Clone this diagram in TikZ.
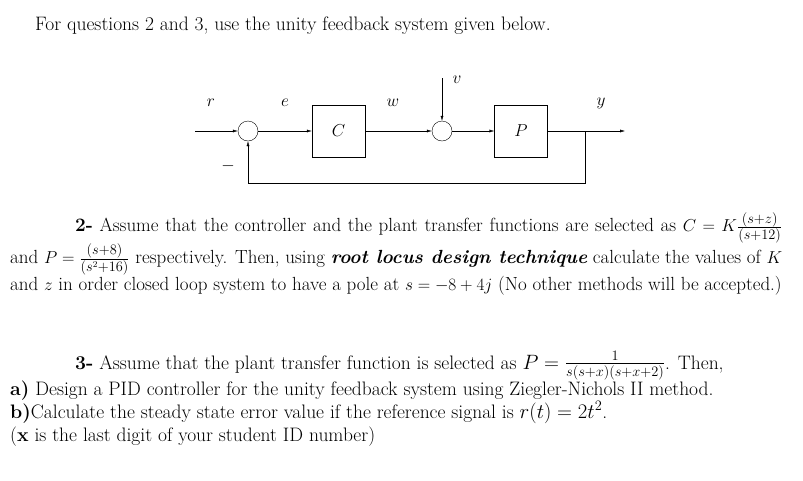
\documentclass[tikz,border=0pt]{standalone}
\usepackage{amsmath}
\usetikzlibrary{arrows.meta}
\begin{document}
\begin{tikzpicture}[x=1pt,y=-1pt,
  blk/.style={draw,minimum width=53pt,minimum height=52pt,inner sep=0pt,font=\fontsize{17}{18}\selectfont},
  sumn/.style={draw,circle,minimum size=20pt,inner sep=0pt},
  sig/.style={-{Latex[length=5pt,width=3pt]}},
  lbl/.style={font=\fontsize{17}{18}\selectfont},
  txt/.style={anchor=base west,inner sep=0pt,font=\fontsize{19.5}{24}\selectfont}]
\useasboundingbox (0,0) rectangle (803,480);
\node[txt] (t0) at (35,30) {For questions 2 and 3, use the unity feedback system given below.};
% diagram
\coordinate (rin) at (195,131);
\node[sumn] (s1) at (248,131) {};
\node[blk] (C) at (338.5,131) {$C$};
\node[sumn] (s2) at (442,131) {};
\node[blk] (P) at (521,131) {$P$};
\coordinate (vin) at (442,78);
\coordinate (br) at (585,131);
\coordinate (out) at (625,131);
\coordinate (fb1) at (585,183);
\coordinate (fb2) at (248,183);
\draw[sig] (rin) -- (s1);
\draw[sig] (s1) -- (C);
\draw[sig] (C) -- (s2);
\draw[sig] (vin) -- (s2);
\draw[sig] (s2) -- (P);
\draw[sig] (P) -- (out);
\draw[sig] (br) -- (fb1) -- (fb2) -- (s1);
\node[lbl] (lr) at (211,103) {$r$};
\node[lbl] (le) at (285,103) {$e$};
\node[lbl] (lw) at (393,103) {$w$};
\node[lbl] (lv) at (457,80) {$v$};
\node[lbl] (ly) at (601,103) {$y$};
\node[lbl] (lm) at (228,166) {$-$};
% question 2
\node[anchor=north west,inner sep=0pt,font=\fontsize{19}{24.5}\selectfont] (q2) at (10,212) {\parbox{772pt}{\setlength{\parindent}{65pt}\indent\textbf{2-} Assume that the controller and the plant transfer functions are selected as $C=K\frac{(s+z)}{(s+12)}$ and $P=\frac{(s+8)}{(s^2+16)}$ respectively. Then, using \textbf{\textit{root locus design technique}} calculate the values of $K$ and $z$ in order closed loop system to have a pole at $s=-8+4j$ (No other methods will be accepted.)}};
% question 3
\node[txt] (q3a) at (75,369) {\textbf{3-} Assume that the plant transfer function is selected as $P=\frac{1}{s(s+x)(s+x+2)}$. Then,};
\node[txt] (q3b) at (10,395) {\textbf{a)} Design a PID controller for the unity feedback system using Ziegler-Nichols II method.};
\node[txt] (q3c) at (10,418) {\textbf{b)}Calculate the steady state error value if the reference signal is $r(t)=2t^2$.};
\node[txt] (q3d) at (10,441) {(\textbf{x} is the last digit of your student ID number)};
\end{tikzpicture}
\end{document}
